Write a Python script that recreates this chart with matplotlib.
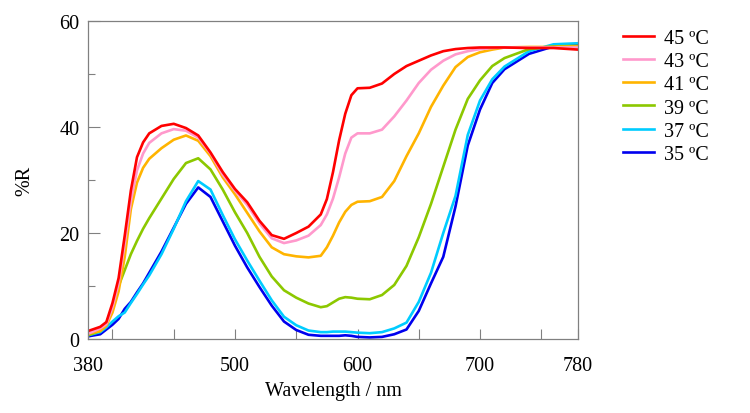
import numpy as np
import matplotlib
matplotlib.use('Agg')
import matplotlib.pyplot as plt

# wavelength grid (nm)
wavelength = [380, 390, 395, 400, 405, 410, 415, 420, 425, 430, 440, 450, 460, 470, 480,
              490, 500, 510, 520, 530, 540, 550, 560, 570, 575, 580, 585, 590, 595, 600,
              610, 620, 630, 640, 650, 660, 670, 680, 690, 700, 710, 720, 740, 760, 780]

# %R for each temperature
r45 = [1.5, 2.3, 3.2, 6.8, 11.5, 19.5, 28.0, 34.3, 37.1, 38.8, 40.2, 40.6, 39.8, 38.4, 35.2,
       31.5, 28.3, 25.8, 22.3, 19.6, 18.9, 20.0, 21.2, 23.5, 26.4, 31.5, 37.5, 42.5, 46.0, 47.3,
       47.4, 48.2, 50.0, 51.5, 52.5, 53.5, 54.3, 54.7, 54.9, 55.0, 55.0, 55.0, 54.9, 54.9, 54.6]
r43 = [1.0, 2.0, 2.8, 6.0, 10.5, 18.0, 26.0, 31.8, 35.0, 37.0, 38.8, 39.6, 39.3, 38.0, 35.0,
       31.0, 28.0, 25.3, 21.8, 19.0, 18.1, 18.6, 19.5, 21.5, 23.5, 26.5, 30.5, 35.0, 38.0, 38.8,
       38.8, 39.5, 42.0, 45.0, 48.3, 50.8, 52.5, 53.7, 54.3, 54.7, 54.9, 55.0, 55.0, 55.0, 55.0]
r41 = [1.0, 1.5, 2.5, 5.0, 9.0, 15.5, 24.5, 29.5, 32.3, 34.0, 36.0, 37.6, 38.4, 37.4, 34.5,
       30.5, 27.3, 23.8, 20.3, 17.3, 16.0, 15.6, 15.4, 15.7, 17.3, 19.5, 22.0, 24.0, 25.3, 25.9,
       26.0, 26.8, 29.8, 34.5, 38.8, 43.8, 47.8, 51.3, 53.2, 54.1, 54.6, 55.0, 55.1, 55.1, 55.2]
r39 = [0.7, 1.5, 3.0, 6.0, 10.0, 13.0, 16.0, 18.5, 20.8, 22.8, 26.5, 30.2, 33.2, 34.1, 32.0,
       28.2, 23.9, 20.0, 15.5, 11.8, 9.2, 7.8, 6.7, 6.0, 6.2, 6.9, 7.6, 7.9, 7.8, 7.6,
       7.5, 8.3, 10.2, 13.8, 19.2, 25.5, 32.5, 39.5, 45.3, 48.8, 51.5, 53.0, 54.7, 55.2, 55.3]
r37 = [0.7, 1.3, 2.2, 3.3, 4.3, 5.0, 6.8, 8.5, 10.3, 12.0, 16.0, 20.8, 26.0, 29.8, 28.2,
       23.4, 18.8, 14.8, 11.0, 7.3, 4.2, 2.6, 1.6, 1.3, 1.3, 1.4, 1.4, 1.4, 1.3, 1.2,
       1.1, 1.3, 2.0, 3.1, 7.0, 12.5, 20.0, 27.0, 38.5, 45.0, 49.0, 51.4, 54.3, 55.6, 55.8]
r35 = [0.5, 0.9, 1.8, 2.7, 3.8, 5.7, 7.0, 8.8, 10.5, 12.5, 16.5, 21.0, 25.5, 28.6, 26.8,
       22.2, 17.6, 13.5, 9.8, 6.3, 3.3, 1.7, 0.8, 0.6, 0.6, 0.6, 0.6, 0.7, 0.6, 0.4,
       0.3, 0.4, 0.9, 1.8, 5.3, 10.5, 15.5, 25.0, 36.5, 43.3, 48.3, 50.9, 53.8, 55.2, 55.5]

labels = ['45 ºC', '43 ºC', '41 ºC', '39 ºC', '37 ºC', '35 ºC']
series = [r45, r43, r41, r39, r37, r35]
colors = ['#FF0000', '#FF99CC', '#FFB400', '#8CC800', '#00CCFF', '#0000EE']

plt.rcParams['font.family'] = ['Liberation Serif', 'DejaVu Serif']
plt.rcParams['font.size'] = 14.5

fig = plt.figure(figsize=(7.5, 4.14), dpi=100)
ax = fig.add_axes([0.1173, 0.1787, 0.6534, 0.7682])

# draw coolest first so the hottest sits on top
handles = {}
for lab, vals, col in reversed(list(zip(labels, series, colors))):
    line, = ax.plot(wavelength, vals, color=col, lw=1.9, solid_joinstyle='round')
    handles[lab] = line

ax.set_xlim(380, 780)
ax.set_ylim(0, 60)
ax.set_xticks([380, 500, 600, 700, 780])
ax.set_xticks([400, 450, 550, 650, 750], minor=True)
ax.set_yticks([0, 20, 40, 60])
ax.set_yticks([10, 30, 50], minor=True)

ax.tick_params(axis='x', which='both', direction='in', length=7, width=0.8,
               color='#808080', pad=12.5)
ax.tick_params(axis='y', which='major', direction='in', length=8.5, width=0.8,
               color='#808080', pad=6)
ax.tick_params(axis='y', which='minor', direction='in', length=5, width=0.8,
               color='#808080')
for sp in ax.spines.values():
    sp.set_color('#808080')
    sp.set_linewidth(0.9)

ax.set_xlabel('Wavelength / nm', labelpad=4)
ax.set_ylabel('%R', labelpad=18)

ax.legend([handles[l] for l in labels], labels, loc='upper left',
          bbox_to_anchor=(1.076, 1.0), frameon=False, handlelength=1.5,
          handletextpad=0.5, labelspacing=0.2, borderaxespad=0.0)

plt.savefig('out.png', dpi=100)
